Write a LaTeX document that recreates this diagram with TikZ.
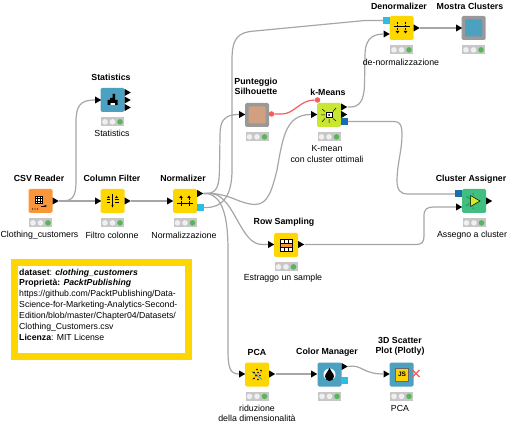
\documentclass[tikz,border=0pt]{standalone}
\usepackage{fontspec}
\setmainfont{Liberation Sans}
\usetikzlibrary{positioning, shapes.geometric, arrows.meta}
\definecolor{knorange}{HTML}{F9963A}
\definecolor{knyellow}{HTML}{FFD700}
\definecolor{knblue}{HTML}{4CA0C0}
\definecolor{knlime}{HTML}{C8E632}
\definecolor{kngreen}{HTML}{40C080}
\definecolor{kncyan}{HTML}{2DBDE0}
\definecolor{kndark}{HTML}{1C6CB0}
\definecolor{knred}{HTML}{F75C5C}
\definecolor{knpeach}{HTML}{D0A080}
\definecolor{knframe}{HTML}{999999}
\definecolor{knwire}{HTML}{A6A6A6}
\begin{document}
\begin{tikzpicture}[x=1pt, y=-1pt,
        icon/.style={rectangle, minimum size=24, inner sep=0pt, rounded corners=1.5pt},
        view/.style={icon, fill=knframe},
        lights/.style={rectangle, fill=black!22, minimum width=23, minimum height=9, inner sep=0pt, path picture={
            \fill[black!6] ([xshift=-7.5]path picture bounding box.center) circle (2.8);
            \fill[black!6] (path picture bounding box.center) circle (2.8);
            \fill[green!55!black!65] ([xshift=7.5]path picture bounding box.center) circle (2.8);}},
        port/.style={isosceles triangle, isosceles triangle stretches, fill=black, minimum width=7, minimum height=6, inner sep=0pt, anchor=west},
        model/.style={rectangle, minimum size=7, inner sep=0pt},
        flow/.style={circle, fill=knred, minimum size=5.5, inner sep=0pt},
        wire/.style={draw=knwire, line width=1.2pt},
        title/.style={font=\fontsize{8.8}{10.5}\selectfont\bfseries, align=center, inner sep=0pt},
        sublabel/.style={font=\fontsize{8.8}{10.7}\selectfont, align=center, inner sep=0pt},
        glyph/.style={line width=0.5pt, draw=black}
    ]
        \useasboundingbox (0,0) rectangle (512,425);

        % Nodes
        \node[icon, fill=knorange] (csv) at (40.5,201) {};
        \node[icon, fill=knyellow] (filter) at (112.5,201) {};
        \node[icon, fill=knyellow] (norm) at (185,201) {};
        \node[icon, fill=knblue] (stat) at (112.5,100) {};
        \node[view] (sil) at (257,115) {};
        \node[icon, fill=knlime] (kmeans) at (329,115) {};
        \node[icon, fill=knyellow] (denorm) at (401.5,28) {};
        \node[view] (show) at (473.5,28) {};
        \node[icon, fill=kngreen] (assign) at (474,201) {};
        \node[icon, fill=knyellow] (sample) at (286,245) {};
        \node[icon, fill=knyellow] (pca) at (257,374.5) {};
        \node[icon, fill=knblue] (color) at (329.5,374.5) {};
        \node[icon, fill=knblue] (plot) at (401.5,374.5) {};

        % Status lights
        \node[lights, below=5pt of csv] (csv-l) {};
        \node[lights, below=5pt of filter] (filter-l) {};
        \node[lights, below=5pt of norm] (norm-l) {};
        \node[lights, below=5pt of stat] (stat-l) {};
        \node[lights, below=5pt of sil] (sil-l) {};
        \node[lights, below=5pt of kmeans] (kmeans-l) {};
        \node[lights, below=5pt of denorm] (denorm-l) {};
        \node[lights, below=5pt of show] (show-l) {};
        \node[lights, below=5pt of assign] (assign-l) {};
        \node[lights, below=5pt of sample] (sample-l) {};
        \node[lights, below=5pt of pca] (pca-l) {};
        \node[lights, below=5pt of color] (color-l) {};
        \node[lights, below=5pt of plot] (plot-l) {};

        % Ports
        \node[port] (csv-o) at (52.5,201) {};
        \node[port] (filter-i) at (95,201) {};
        \node[port] (filter-o) at (124.5,201) {};
        \node[port] (norm-i) at (167,201) {};
        \node[port] (norm-o) at (197,193.5) {};
        \node[model, fill=kncyan] (norm-m) at (200,207.5) {};
        \node[port] (stat-i) at (95,100) {};
        \node[port] (stat-a) at (124.5,92.5) {};
        \node[port] (stat-b) at (124.5,100) {};
        \node[port] (stat-c) at (124.5,107.5) {};
        \node[port] (sil-i) at (239,114.5) {};
        \node[flow] (sil-o) at (271.5,114) {};
        \node[flow] (kmeans-f) at (317.5,100) {};
        \node[port] (kmeans-i) at (311,114.5) {};
        \node[port] (kmeans-a) at (341,107) {};
        \node[port] (kmeans-b) at (341,114.5) {};
        \node[model, fill=kndark] (kmeans-m) at (344.5,121.5) {};
        \node[model, fill=kncyan] (denorm-m) at (386.5,20.5) {};
        \node[port] (denorm-i) at (383.5,34) {};
        \node[port] (denorm-o) at (413.5,28) {};
        \node[port] (show-i) at (456,28) {};
        \node[model, fill=kndark] (assign-m) at (458.5,194) {};
        \node[port] (assign-i) at (456,207) {};
        \node[port] (assign-o) at (486,201) {};
        \node[port] (sample-i) at (268,244.5) {};
        \node[port] (sample-o) at (298,244.5) {};
        \node[port] (pca-i) at (239,374) {};
        \node[port] (pca-o) at (269,374) {};
        \node[port] (color-i) at (311,374) {};
        \node[port] (color-o) at (341.5,366.5) {};
        \node[model, fill=kncyan] (color-m) at (344.5,380.5) {};
        \node[port] (plot-i) at (383.5,374) {};

        % Connections
        \draw[wire] (csv-o.apex) -- (filter-i.west);
        \draw[wire] (filter-o.apex) -- (norm-i.west);
        \draw[wire] (denorm-o.apex) -- (show-i.west);
        \draw[wire] (pca-o.apex) -- (color-i.west);
        \draw[wire] (csv-o.apex) -- (62,201) .. controls (74,201) and (76,195) .. (76,180) -- (76,122) .. controls (76,106) and (80,100) .. (stat-i.west);
        \draw[wire] (norm-o.apex) -- (206,193.5) .. controls (218,193.5) and (219,184) .. (219.5,170) -- (220,135) .. controls (220,121) and (224,114.5) .. (sil-i.west);
        \draw[wire] (norm-o.apex) -- (212,193.5) .. controls (232,195) and (240,204) .. (255,204.5) .. controls (268,204.5) and (272,190) .. (277,170) .. controls (283,136) and (286,114.5) .. (kmeans-i.west);
        \draw[wire] (norm-o.apex) -- (212,193.5) .. controls (235,197) and (240,244.5) .. (262,244.5) -- (sample-i.west);
        \draw[wire] (norm-o.apex) -- (208,193.5) .. controls (222,197) and (228,215) .. (228,250) -- (228,350) .. controls (228,368) and (230,374) .. (pca-i.west);
        \draw[wire] (norm-m.east) -- (206,207.5) .. controls (224,207.5) and (232,194) .. (232,170) -- (232,60) .. controls (232,38) and (238,32) .. (255,31) -- (365,20.5) -- (denorm-m.west);
        \draw[wire] (kmeans-a.apex) -- (350,107) .. controls (360,107) and (364,100) .. (364.5,85) -- (365,55) .. controls (365,42) and (370,34) .. (denorm-i.west);
        \draw[wire] (kmeans-m.east) -- (394,121.5) .. controls (400,121.5) and (402,125) .. (402,135) .. controls (402,150) and (397,165) .. (397,180) .. controls (397,190) and (400,194) .. (408,194) -- (assign-m.west);
        \draw[wire] (sample-o.apex) -- (416,244.5) .. controls (422,244.5) and (424,242) .. (424,236) -- (424,216) .. controls (424,209) and (427,207) .. (434,207) -- (assign-i.west);
        \draw[wire] (color-o.apex) .. controls (362,364) and (362,374) .. (plot-i.west);
        \draw[draw=knred, line width=1.2pt] (sil-o.east) -- (282,114) .. controls (294,114) and (300,100) .. (kmeans-f.west);

        % Titles
        \node[title] (csv-t) at (39,178) {CSV Reader};
        \node[title] (filter-t) at (112,178) {Column Filter};
        \node[title] (norm-t) at (183,178) {Normalizer};
        \node[title] (stat-t) at (111,77.5) {Statistics};
        \node[title] (sil-t) at (256,86.5) {Punteggio\\Silhouette};
        \node[title] (kmeans-t) at (328,92) {k-Means};
        \node[title] (denorm-t) at (399,6) {Denormalizer};
        \node[title] (show-t) at (470,6) {Mostra Clusters};
        \node[title] (assign-t) at (471,179) {Cluster Assigner};
        \node[title] (sample-t) at (284,222) {Row Sampling};
        \node[title] (pca-t) at (257,352) {PCA};
        \node[title] (color-t) at (327,352) {Color Manager};
        \node[title] (plot-t) at (400,346.5) {3D Scatter\\Plot (Plotly)};

        % Labels
        \node[sublabel] (csv-s) at (39.5,235) {Clothing\_customers};
        \node[sublabel] (filter-s) at (112,235) {Filtro colonne};
        \node[sublabel] (norm-s) at (184,235) {Normalizzazione};
        \node[sublabel] (stat-s) at (112,133.5) {Statistics};
        \node[sublabel] (kmeans-s) at (327,154) {K-mean\\con cluster ottimali};
        \node[sublabel] (denorm-s) at (401,62) {de-normalizzazione};
        \node[sublabel] (assign-s) at (472,235) {Assegno a cluster};
        \node[sublabel] (sample-s) at (283,278) {Estraggo un sample};
        \node[sublabel] (pca-s) at (257,413.5) {riduzione\\della dimensionalità};
        \node[sublabel] (plot-s) at (400,408) {PCA};

        % Inner parts of the views
        \node[rectangle, fill=knpeach, minimum size=17, inner sep=0pt, rounded corners=1pt] (sil-p) at (sil) {};
        \node[rectangle, fill=knblue, minimum size=17, inner sep=0pt, rounded corners=1pt] (show-p) at (show) {};

        % Glyphs
        \begin{scope}[shift={(csv.center)}]
            \fill[white] (-5.5,-5) rectangle (1.5,2);
            \draw[glyph, line width=0.3pt] (-5.5,-5) rectangle (1.5,2) (-5.5,-2.7) -- (1.5,-2.7) (-5.5,-0.3) -- (1.5,-0.3) (-3.2,-5) -- (-3.2,2) (-0.8,-5) -- (-0.8,2);
            \draw[glyph, line width=0.9pt, -{Latex[length=3pt]}] (0,5) -- (7,5);
            \fill (-8,8) circle (0.7) (-5.5,8) circle (0.7) (-3,8) circle (0.7);
        \end{scope}
        \begin{scope}[shift={(filter.center)}]
            \draw[glyph, line width=0.9pt, -{Latex[length=3pt]}] (0,-7) -- (0,7);
            \draw[glyph] (-6,-2) -- (-2.5,-2) (2.5,-2) -- (6,-2) (-6,1.5) -- (-2.5,1.5) (2.5,1.5) -- (6,1.5);
            \fill (-4,-5) -- (-5.5,-3) -- (-2.5,-3) -- cycle (4,-5) -- (2.5,-3) -- (5.5,-3) -- cycle;
        \end{scope}
        \begin{scope}[shift={(norm.center)}]
            \draw[glyph] (-8,2) -- (8,2);
            \draw[glyph, densely dotted] (-4,-3) -- (-4,6) (4,-3) -- (4,6);
            \fill (-4,-5.5) -- (-5.8,-3) -- (-2.2,-3) -- cycle (4,-5.5) -- (2.2,-3) -- (5.8,-3) -- cycle;
        \end{scope}
        \begin{scope}[shift={(denorm.center)}]
            \draw[glyph] (-8,-2) -- (8,-2);
            \draw[glyph, densely dotted] (-4,-6) -- (-4,3) (4,-6) -- (4,3);
            \fill (-4,5.5) -- (-5.8,3) -- (-2.2,3) -- cycle (4,5.5) -- (2.2,3) -- (5.8,3) -- cycle;
        \end{scope}
        \begin{scope}[shift={(stat.center)}]
            \fill (-5,0) rectangle (-2.5,5) (-2.5,-2) rectangle (0,3) (0,-6) rectangle (2.5,5) (2.5,0) rectangle (5,5);
            \fill[white] (-1.5,3) rectangle (2,5.5);
        \end{scope}
        \begin{scope}[shift={(kmeans.center)}]
            \draw[glyph, fill=white] (-3,-2.5) rectangle (3,2.5);
            \fill (0,0) circle (1);
            \draw[glyph] (-4,-3.5) -- (-7,-6) (4,-3.5) -- (7,-7) (-4,3.5) -- (-7,7) (4,3.5) -- (7,6) (-4,0) -- (-8,0) (0,4) -- (0,8);
        \end{scope}
        \begin{scope}[shift={(assign.center)}]
            \draw[glyph, fill=knlime!80!yellow] (-3.5,-5.5) -- (6,0) -- (-3.5,5.5) -- cycle;
            \draw[glyph, densely dotted] (-8,-5) -- (-4,-2) (-8,5) -- (-4,2) (-1,-8) -- (-1,-5) (-1,8) -- (-1,5);
        \end{scope}
        \begin{scope}[shift={(sample.center)}]
            \fill[white] (-6,-6) rectangle (6,6);
            \fill[knorange] (-6,-2) rectangle (6,2);
            \draw[glyph] (-6,-6) rectangle (6,6) (-6,-2) -- (6,-2) (-6,2) -- (6,2) (-2,-6) -- (-2,-2) (2,-6) -- (2,-2) (-2,2) -- (-2,6) (2,2) -- (2,6);
        \end{scope}
        \begin{scope}[shift={(pca.center)}]
            \draw[draw=knorange, line width=1pt] (-5,5) -- (5,-3);
            \draw[draw=knblue, line width=1pt] (-5,-3) -- (5,5);
            \fill (-3,-2) circle (0.8) (0,-5) circle (0.8) (4,-4) circle (0.8) (1,-2) circle (0.8) (-1,1) circle (0.8) (3,1) circle (0.8) (-3,4) circle (0.8) (1,5) circle (0.8);
        \end{scope}
        \begin{scope}[shift={(color.center)}]
            \fill[white] (0,0) circle (6);
            \fill (0,-6.5) .. controls (1,-3) and (4.5,-1) .. (4.5,2) .. controls (4.5,5) and (2,6.5) .. (0,6.5) .. controls (-2,6.5) and (-4.5,5) .. (-4.5,2) .. controls (-4.5,-1) and (-1,-3) .. (0,-6.5);
        \end{scope}
        \node[rectangle, fill=yellow!70!orange, draw=black!60, line width=0.3pt, minimum size=13, inner sep=0pt, font=\fontsize{6.5}{6.5}\selectfont\bfseries] (plot-js) at (402,374.5) {\raisebox{-2pt}{JS}};
        \begin{scope}[shift={(416,373.5)}]
            \draw[draw=knred, line width=1.3pt] (-3.5,-3.5) -- (3.5,3.5) (-3.5,3.5) -- (3.5,-3.5);
        \end{scope}

        % Info box
        \node[draw=knyellow, line width=7pt, fill=white, minimum width=174, minimum height=94, inner sep=0pt] (info) at (101.5,309.5) {};
        \node[anchor=north west, align=left, inner sep=0pt, font=\fontsize{8.7}{10.9}\selectfont] (info-t) at (19,268.5) {\textbf{dataset}: \textbf{\textit{clothing\_customers}}\\
            \textbf{Proprietà: \textit{PacktPublishing}}\\
            https://github.com/PacktPublishing/Data-\\
            Science-for-Marketing-Analytics-Second-\\
            Edition/blob/master/Chapter04/Datasets/\\
            Clothing\_Customers.csv\\
            \textbf{Licenza}: MIT License};
    \end{tikzpicture}
\end{document}
